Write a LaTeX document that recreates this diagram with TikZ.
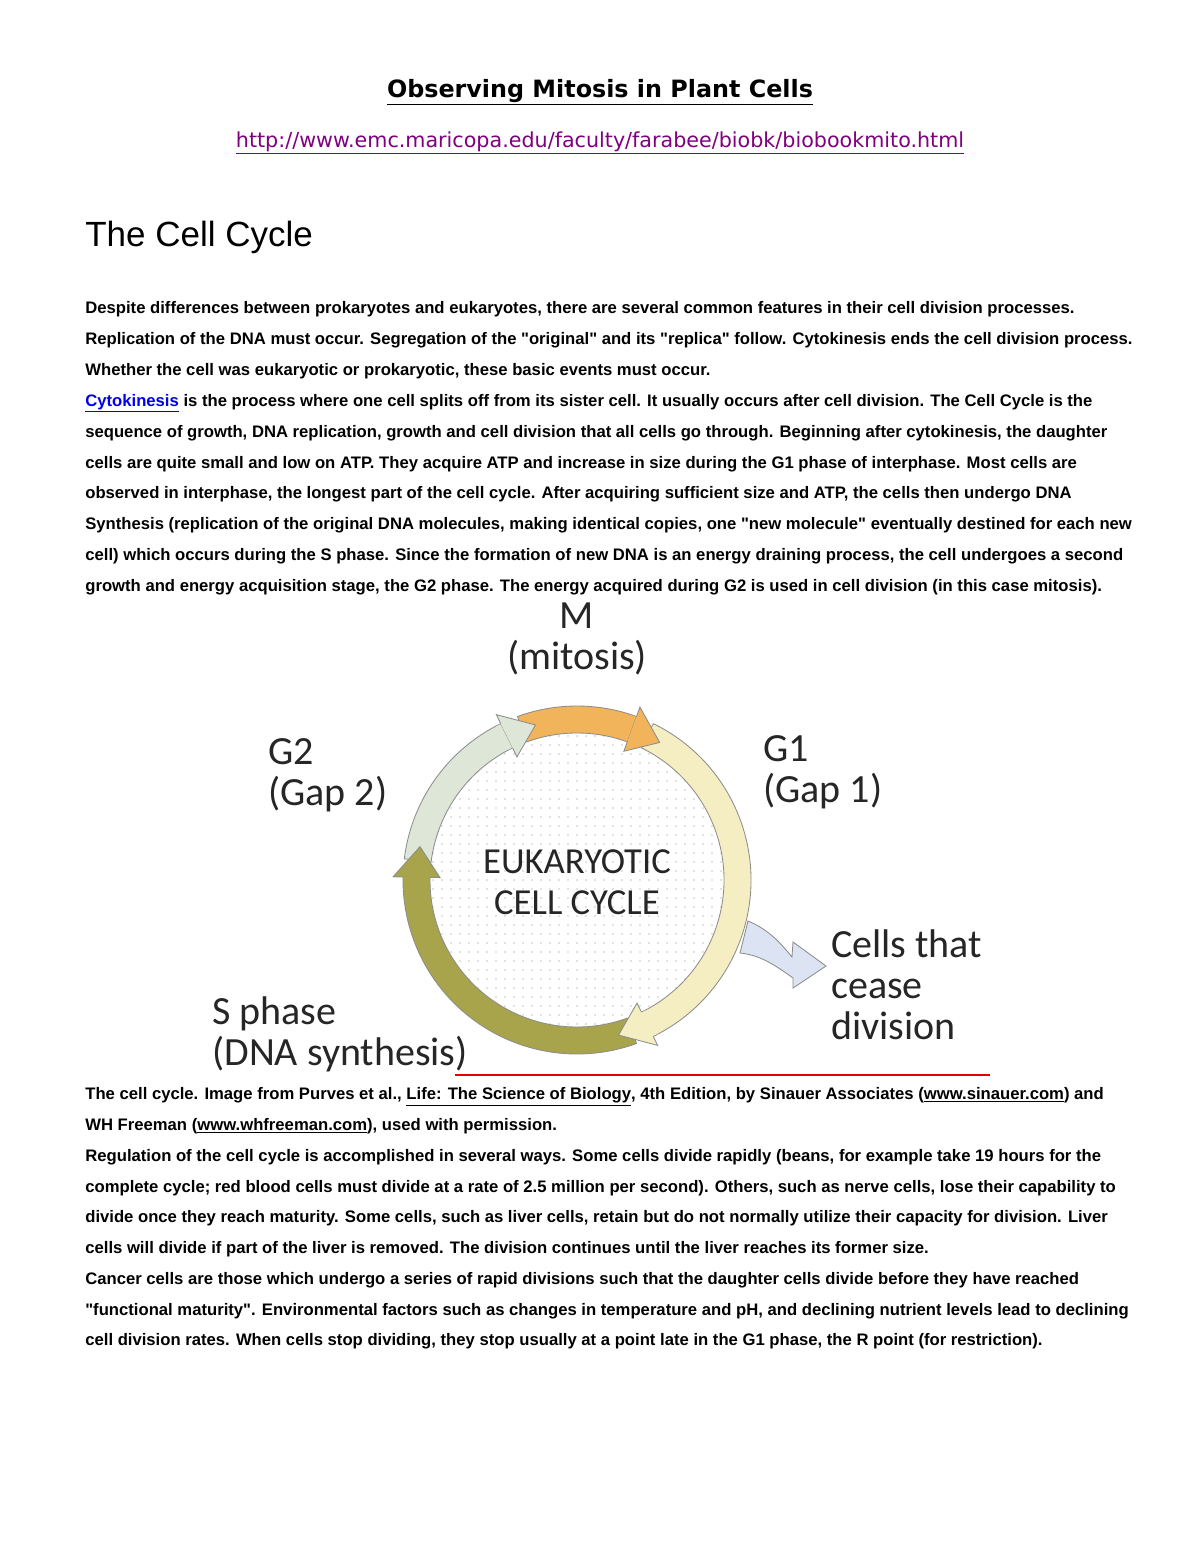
\documentclass[tikz,border=0pt]{standalone}
\usepackage{fontspec}
\defaultfontfeatures{}
\defaultfontfeatures[\rmfamily]{}
\setmainfont{Liberation Sans}
\newfontfamily\calfont{Carlito}
\newfontfamily\dvfont{DejaVu Sans}
\newcommand\dq{"}
\definecolor{cM}{HTML}{F2B45A}
\definecolor{cGa}{HTML}{F4EEC2}
\definecolor{cS}{HTML}{A8A44C}
\definecolor{cGb}{HTML}{DEE6D8}
\definecolor{cX}{HTML}{DCE3F2}
\definecolor{linkblue}{HTML}{0000EE}
\definecolor{linkpurple}{HTML}{800080}
\begin{document}
\begin{tikzpicture}[x=0.6pt,y=-0.6pt,
  body/.style={anchor=base west,inner sep=0pt,font=\bfseries\fontsize{10}{11}\selectfont},
  lab/.style={anchor=base west,inner sep=0pt,font=\calfont\fontsize{24}{26}\selectfont,text=black!85},
  ring/.style={draw=black!45,line width=0.5pt}]
\useasboundingbox[fill=white] (0,0) rectangle (1200,1553);
\node[anchor=base,inner sep=0pt,font=\dvfont\bfseries\fontsize{14.3}{16}\selectfont] (title) at (600,97) {\underline{Observing Mitosis in Plant Cells}};
\node[anchor=base,inner sep=0pt,font=\dvfont\fontsize{12.4}{14}\selectfont,text=linkpurple] (url) at (600,147) {\underline{http://www.emc.maricopa.edu/faculty/farabee/biobk/biobookmito.html}};
\node[anchor=base west,inner sep=0pt,font=\fontsize{21}{23}\selectfont] (head) at (85,246) {The Cell Cycle};
\node[body] (l1) at (85,313) {Despite differences between prokaryotes and eukaryotes, there are several common features in their cell division processes.};
\node[body] (l2) at (85,344) {Replication of the DNA must occur. Segregation of the \dq original\dq{} and its \dq replica\dq{} follow. Cytokinesis ends the cell division process.};
\node[body] (l3) at (85,375) {Whether the cell was eukaryotic or prokaryotic, these basic events must occur.};
\node[body] (l4) at (85,406) {\textcolor{linkblue}{\underline{Cytokinesis}} is the process where one cell splits off from its sister cell. It usually occurs after cell division. The Cell Cycle is the};
\node[body] (l5) at (85,437) {sequence of growth, DNA replication, growth and cell division that all cells go through. Beginning after cytokinesis, the daughter};
\node[body] (l6) at (85,468) {cells are quite small and low on ATP. They acquire ATP and increase in size during the G1 phase of interphase. Most cells are};
\node[body] (l7) at (85,498) {observed in interphase, the longest part of the cell cycle. After acquiring sufficient size and ATP, the cells then undergo DNA};
\node[body] (l8) at (85,529) {Synthesis (replication of the original DNA molecules, making identical copies, one \dq new molecule\dq{} eventually destined for each new};
\node[body] (l9) at (85,560) {cell) which occurs during the S phase. Since the formation of new DNA is an energy draining process, the cell undergoes a second};
\node[body] (l10) at (85,591) {growth and energy acquisition stage, the G2 phase. The energy acquired during G2 is used in cell division (in this case mitosis).};
% ring
\begin{scope}[shift={(577,880)},y=0.6pt]
  \begin{scope}
    \clip (0,0) circle (147);
    \foreach \i in {-17,...,17}{\foreach \j in {-17,...,17}{
      \fill[black!22] (\i*9,\j*9) circle (0.8);}}
  \end{scope}
  % bodies
  \filldraw[ring,fill=cS] (-70:174) arc[start angle=-70,end angle=-181,radius=174] -- (-181:147) arc[start angle=-181,end angle=-70,radius=147] -- cycle;
  \filldraw[ring,fill=cGb] (173:174) arc[start angle=173,end angle=116,radius=174] -- (116:147) arc[start angle=116,end angle=173,radius=147] -- cycle;
  \filldraw[ring,fill=cM] (110:174) arc[start angle=110,end angle=70,radius=174] -- (70:147) arc[start angle=70,end angle=110,radius=147] -- cycle;
  \filldraw[ring,fill=cGa] (64:174) arc[start angle=64,end angle=-64,radius=174] -- (-64:147) arc[start angle=-64,end angle=64,radius=147] -- cycle;
  % heads
  \filldraw[ring,fill=cS] (-181:174) -- (-181:184) -- (-192:160.5) -- (-181:137) -- (-181:147);
  \filldraw[ring,fill=cGb] (116:174) -- (116:184) -- (105:160.5) -- (116:137) -- (116:147);
  \filldraw[ring,fill=cM] (70:174) -- (70:184) -- (59:160.5) -- (70:137) -- (70:147);
  \filldraw[ring,fill=cGa] (-64:174) -- (-64:184) -- (-75:160.5) -- (-64:137) -- (-64:147);
  \fill[cS] (-181.3:173.5) -- (-181.3:147.5) -- (-179:147.5) -- (-179:173.5) -- cycle;
  \fill[cGb] (116.3:173.5) -- (116.3:147.5) -- (118:147.5) -- (118:173.5) -- cycle;
  \fill[cM] (70.3:173.5) -- (70.3:147.5) -- (72:147.5) -- (72:173.5) -- cycle;
  \fill[cGa] (-64.3:173.5) -- (-64.3:147.5) -- (-62:147.5) -- (-62:173.5) -- cycle;
\end{scope}
% exit arrow
\filldraw[ring,fill=cX] (748,921) .. controls (770,930) and (782,945) .. (792,957) -- (793,942) -- (826,966) -- (793,988) -- (793,978) .. controls (775,965) and (760,955) .. (740,953) -- cycle;
\node[anchor=base,inner sep=0pt,font=\calfont\fontsize{22}{24}\selectfont,text=black!85] (euk) at (577,873) {EUKARYOTIC};
\node[anchor=base,inner sep=0pt,font=\calfont\fontsize{22}{24}\selectfont,text=black!85] (ccy) at (577,914) {CELL CYCLE};
\node[anchor=base,inner sep=0pt,font=\calfont\fontsize{24}{26}\selectfont,text=black!85] (m) at (577,628) {M};
\node[anchor=base,inner sep=0pt,font=\calfont\fontsize{24}{26}\selectfont,text=black!85] (mit) at (577,669) {(mitosis)};
\node[lab] (g2) at (268,764) {G2};
\node[lab] (g2b) at (268,805) {(Gap 2)};
\node[lab] (g1) at (763,761) {G1};
\node[lab] (g1b) at (763,802) {(Gap 1)};
\node[lab] (c1) at (831,957) {Cells that};
\node[lab] (c2) at (831,998) {cease};
\node[lab] (c3) at (831,1039) {division};
\node[lab] (s1) at (212,1024) {S phase};
\node[lab] (s2) at (212,1065) {(DNA synthesis)};
\draw[red!90!black,line width=0.7pt] (455,1075) -- (990,1075);
\node[body] (k1) at (85,1099) {The cell cycle. Image from Purves et al., \underline{Life: The Science of Biology}, 4th Edition, by Sinauer Associates (\underline{www.sinauer.com}) and};
\node[body] (k2) at (85,1130) {WH Freeman (\underline{www.whfreeman.com}), used with permission.};
\node[body] (k3) at (85,1161) {Regulation of the cell cycle is accomplished in several ways. Some cells divide rapidly (beans, for example take 19 hours for the};
\node[body] (k4) at (85,1192) {complete cycle; red blood cells must divide at a rate of 2.5 million per second). Others, such as nerve cells, lose their capability to};
\node[body] (k5) at (85,1222) {divide once they reach maturity. Some cells, such as liver cells, retain but do not normally utilize their capacity for division. Liver};
\node[body] (k6) at (85,1253) {cells will divide if part of the liver is removed. The division continues until the liver reaches its former size.};
\node[body] (k7) at (85,1284) {Cancer cells are those which undergo a series of rapid divisions such that the daughter cells divide before they have reached};
\node[body] (k8) at (85,1315) {\dq functional maturity\dq . Environmental factors such as changes in temperature and pH, and declining nutrient levels lead to declining};
\node[body] (k9) at (85,1345) {cell division rates. When cells stop dividing, they stop usually at a point late in the G1 phase, the R point (for restriction).};
\end{tikzpicture}
\end{document}
